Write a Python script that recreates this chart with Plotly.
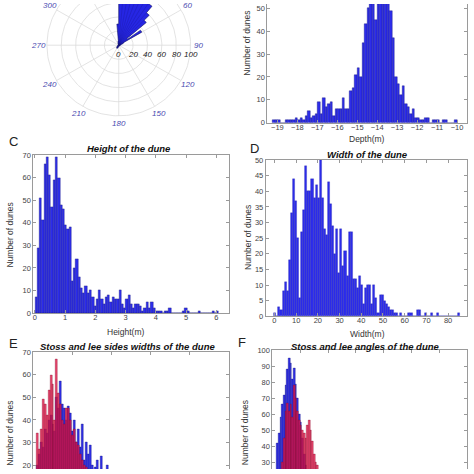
import numpy as np
import plotly.graph_objects as go

W = H = 474

# ---------------- data ----------------
# A: rose of dune orientation (5-degree bins starting at 0 deg, clockwise from north)
rose_bin_width = 5
rose_counts = [75, 90, 100, 97, 92, 86, 80, 72, 60, 50, 15, 37,
               8, 6, 4, 3, 3, 2, 2, 2, 1, 1, 1, 1,
               1, 1, 1, 1, 1, 1, 1, 1, 1, 1, 1, 1,
               2, 2, 3, 4, 4, 5, 4, 5, 4, 3, 3, 2,
               2, 2, 1, 1, 1, 1, 1, 1, 1, 1, 1, 1,
               1, 1, 1, 1, 1, 1, 1, 2, 3, 4, 6, 30]
rose_ang_labels = [0, 30, 60, 90, 120, 150, 180, 210, 240, 270, 300, 330]
rose_r_labels = [0, 20, 40, 60, 80, 100]

# B: depth
depth_start, depth_width = -19.18, 0.125
depth_counts = [1, 1, 1, 0, 0, 1, 1, 1, 1, 2, 1, 2, 1, 3, 5, 2, 3, 4, 9, 4,
                11, 7, 8, 9, 3, 6, 6, 6, 11, 6, 6, 14, 15, 21, 24, 20, 35, 43, 50, 52,
                54, 45, 52, 58, 62, 60, 56, 49, 37, 20, 17, 12, 16, 8, 7, 4, 6, 2, 2, 1,
                1, 2, 2, 0, 1, 1, 1, 0, 1, 1, 0, 0, 0, 1]

# C: height
height_start, height_width = 0.04, 0.075
height_counts = [7, 29, 51, 41, 66, 69, 61, 47, 59, 69, 60, 48, 46, 39, 37, 38,
                 14, 20, 24, 16, 11, 9, 12, 9, 10, 7, 3, 6, 10, 6, 4, 7, 8, 5, 7, 6,
                 6, 10, 4, 2, 6, 8, 4, 2, 4, 4, 3, 1, 2, 5, 2, 5, 2, 1, 1, 1,
                 0, 1, 1, 2, 0, 0, 0, 0, 0, 1, 2, 1, 0, 0, 0, 0, 1, 0, 0, 0,
                 0, 0, 1, 0, 1]

# D: width
width_start, width_width = 0.3, 0.95
width_counts = [1, 0, 3, 2, 8, 11, 8, 18, 33, 44, 37, 25, 6, 27, 34, 48, 40, 40, 44, 38,
                42, 38, 50, 38, 28, 26, 43, 36, 29, 20, 28, 14, 28, 16, 21, 13, 27, 27, 12, 12,
                9, 13, 10, 4, 9, 10, 10, 4, 10, 6, 1, 7, 7, 5, 4, 3, 2, 2, 1, 1,
                0, 1, 0, 0, 0, 1, 1, 0, 0, 2, 2, 0, 0, 1, 0, 0, 1, 0, 0, 1,
                0, 0, 0, 0, 0, 0, 0, 0, 0, 1]

# E: stoss / lee side widths
sides_start, sides_width = 1.0, 0.5
stoss_w_counts = [20, 25, 30, 28, 36, 34, 40, 42, 38, 35, 50, 45, 57, 47, 45, 40, 46, 43, 35,
                  40, 30, 36, 28, 38, 22, 30, 25, 29, 20, 18, 19, 22, 16, 24, 14, 12, 20, 10]
lee_w_counts = [34, 27, 36, 49, 47, 42, 53, 60, 56, 40, 67, 52, 47, 40, 38, 45, 45, 40,
                33, 36, 30, 29, 25, 22, 20, 19, 18, 12]

# F: stoss / lee angles
angle_width = 0.6
stoss_a_start = 1.8
stoss_a_counts = [42, 48, 58, 66, 72, 78, 88, 95, 92, 82, 89, 79, 70, 60, 55, 45, 35, 28]
lee_a_start = 3.6
lee_a_counts = [30, 45, 62, 67, 62, 66, 58, 78, 70, 62, 56, 53, 50, 48, 45, 53, 56, 50,
                43, 35, 30, 28]

# ---------------- style ----------------
FONT = "Liberation Sans"
BLUE = "rgb(45,45,235)"
BLUE_EDGE = "rgb(28,28,130)"
RED = "rgba(228,22,72,0.8)"
RED_EDGE = "rgba(120,0,35,0.8)"
AX = "#9a9a9a"
TICKC = "#444444"


def px(x):
    return x / W


def py(y):
    return 1 - y / H


fig = go.Figure()


def centers(start, width, n):
    return start + width * np.arange(n)


def add_bar(xs, ys, width, color, edge, xa, ya, lw=0.4):
    fig.add_trace(go.Bar(x=xs, y=ys, width=width,
                         marker=dict(color=color, line=dict(color=edge, width=lw)),
                         xaxis=xa, yaxis=ya, showlegend=False))


# ---------- A: rose (drawn on an equal-scaled cartesian pair) ----------
gx, gy = [], []
t = np.linspace(0, 2 * np.pi, 200)
for r in [20, 40, 60, 80, 100]:
    gx += list(r * np.sin(t)) + [None]
    gy += list(r * np.cos(t)) + [None]
for a in range(0, 180, 30):
    ar = np.deg2rad(a)
    gx += [100 * np.sin(ar), -100 * np.sin(ar), None]
    gy += [100 * np.cos(ar), -100 * np.cos(ar), None]
fig.add_trace(go.Scatter(x=gx, y=gy, mode="lines", line=dict(color="#dcdcdc", width=0.8),
                         xaxis="x7", yaxis="y7", showlegend=False, hoverinfo="skip"))

ox, oy = [], []
n = len(rose_counts)
for i, c in enumerate(rose_counts):
    th = np.deg2rad(np.linspace(i * rose_bin_width, (i + 1) * rose_bin_width, 6))
    ox += list(c * np.sin(th))
    oy += list(c * np.cos(th))
ox.append(ox[0])
oy.append(oy[0])
fig.add_trace(go.Scatter(x=ox, y=oy, mode="lines", fill="toself", fillcolor="rgb(38,38,228)",
                         line=dict(color="rgb(18,18,100)", width=0.6),
                         xaxis="x7", yaxis="y7", showlegend=False))
# wedge separators
sx, sy = [], []
for i in range(n):
    rr = min(rose_counts[i], rose_counts[i - 1])
    a = np.deg2rad(i * rose_bin_width)
    sx += [0, rr * np.sin(a), None]
    sy += [0, rr * np.cos(a), None]
fig.add_trace(go.Scatter(x=sx, y=sy, mode="lines", line=dict(color="rgba(18,18,110,0.55)", width=0.4),
                         xaxis="x7", yaxis="y7", showlegend=False, hoverinfo="skip"))

k = 0.72  # px per unit
cx, cy = 118, 42
# ---------- B ----------
add_bar(centers(depth_start, depth_width, len(depth_counts)), depth_counts, depth_width, BLUE, BLUE_EDGE, "x2", "y2")
# ---------- C ----------
add_bar(centers(height_start, height_width, len(height_counts)), height_counts, height_width, BLUE, BLUE_EDGE, "x3", "y3")
# ---------- D ----------
add_bar(centers(width_start, width_width, len(width_counts)), width_counts, width_width, BLUE,
        "rgb(32,32,165)", "x4", "y4", lw=0.3)
# ---------- E ----------
add_bar(centers(sides_start, sides_width, len(stoss_w_counts)), stoss_w_counts, sides_width, BLUE, BLUE_EDGE, "x5", "y5")
add_bar(centers(sides_start, sides_width, len(lee_w_counts)), lee_w_counts, sides_width, RED, RED_EDGE, "x5", "y5")
# ---------- F ----------
add_bar(centers(stoss_a_start, angle_width, len(stoss_a_counts)), stoss_a_counts, angle_width, BLUE, BLUE_EDGE, "x6", "y6")
add_bar(centers(lee_a_start, angle_width, len(lee_a_counts)), lee_a_counts, angle_width, RED, RED_EDGE, "x6", "y6")

tickfont = dict(family=FONT, size=7.5, color=TICKC)


def xax(domain, rng, dtick, anchor, side="bottom", labels=True, mirror="ticks", tick0=0):
    return dict(domain=domain, range=rng, showline=True, linecolor=AX, linewidth=1, mirror=mirror,
                ticks="inside", ticklen=3, tickcolor=AX, dtick=dtick, tick0=tick0, side=side,
                anchor=anchor, ticklabelstandoff=-3,
                showticklabels=labels, tickfont=tickfont, showgrid=False, zeroline=False, fixedrange=True)


def yax(domain, rng, dtick, anchor):
    return dict(domain=domain, range=rng, showline=True, linecolor=AX, linewidth=1, mirror="ticks",
                ticks="inside", ticklen=3, tickcolor=AX, dtick=dtick, tick0=0, anchor=anchor,
                tickfont=tickfont, showgrid=False, zeroline=False, fixedrange=True)


hidden = dict(visible=False, showgrid=False, zeroline=False, fixedrange=True)

fig.update_layout(
    width=W, height=H, margin=dict(l=0, r=0, t=0, b=0), paper_bgcolor="white", plot_bgcolor="white",
    barmode="overlay", bargap=0, showlegend=False, font=dict(family=FONT),
    xaxis7=dict(hidden, domain=[0, 0.5], range=[(0 - cx) / k, (237 - cx) / k], anchor="y7"),
    yaxis7=dict(hidden, domain=[py(142), 1], range=[(cy - 142) / k, cy / k], anchor="x7"),
    xaxis2=xax([px(267), px(467)], [-19.5, -9.5], 1, "y2", mirror=False, tick0=-19),
    yaxis2=yax([py(121), 1], [0, 121 / 2.33], 10, "x2"),
    xaxis3=xax([px(32.5), px(228)], [-0.05, 6.4], 1, "y3"),
    yaxis3=yax([py(315), py(154)], [0, 70], 10, "x3"),
    xaxis4=xax([px(265.3), px(467)], [-4, 88.7], 10, "y4"),
    yaxis4=yax([py(318.5), py(159)], [0, 50], 5, "x4"),
    xaxis5=xax([px(32.5), px(228)], [0, 50], 10, "y5", side="top", labels=False, mirror=False),
    yaxis5=yax([0, py(355)], [70 - 119 / 2.3, 70], 10, "x5"),
    xaxis6=xax([px(272), px(467)], [0, 70], 10, "y6", side="top", labels=False, mirror=False),
    yaxis6=yax([0, py(353)], [100 - 121 / 1.63, 100], 10, "x6"),
)

ann = []


def text(x, y, s, size=8.5, color="#333333", angle=0, bold=False, italic=False, ref="paper"):
    if bold:
        s = "<b>" + s + "</b>"
    if italic:
        s = "<i>" + s + "</i>"
    d = dict(text=s, showarrow=False, textangle=angle, xanchor="center", yanchor="middle",
             font=dict(family=FONT, size=size, color=color))
    if ref == "paper":
        d.update(x=px(x), y=py(y), xref="paper", yref="paper")
    else:
        d.update(x=x, y=y, xref="x7", yref="y7")
    ann.append(d)


# rose labels
for a in rose_ang_labels:
    ar = np.deg2rad(a)
    R = 80 / k
    text(R * np.sin(ar), R * np.cos(ar), str(a), size=8, color="#4a4ab0", italic=True, ref="rose")
for r in rose_r_labels:
    text(r, -9 / k, str(r), size=8, color="#222222", italic=True, ref="rose")

# panel letters
for (lx, ly, s) in [(13, 140, "C"), (254, 147, "D"), (13, 346, "E"), (242, 345, "F")]:
    text(lx, ly, s, size=13, color="#222222")

# titles
text(128, 147, "Height of the dune", size=9.5, color="#111111", bold=True, italic=True)
text(367, 153, "Width of the dune", size=9.5, color="#111111", bold=True, italic=True)
text(127, 349, "Stoss and lee sides widths of the dune", size=9.5, color="#111111", bold=True, italic=True)
text(365, 349, "Stoss and lee angles of the dune", size=9.5, color="#111111", bold=True, italic=True)

# axis titles
text(367, 138, "Depth(m)", size=8.5)
text(125, 334, "Height(m)", size=8.5)
text(367, 336, "Width(m)", size=8.5)
yt = "Number of dunes"
text(247, 40, yt, size=8.5, angle=-90)
text(9, 235, yt, size=8.5, angle=-90)
text(248, 238, yt, size=8.5, angle=-90)
text(9, 437, yt, size=8.5, angle=-90)
text(244, 437, yt, size=8.5, angle=-90)

fig.update_layout(annotations=ann)
fig.write_html("out.html")
